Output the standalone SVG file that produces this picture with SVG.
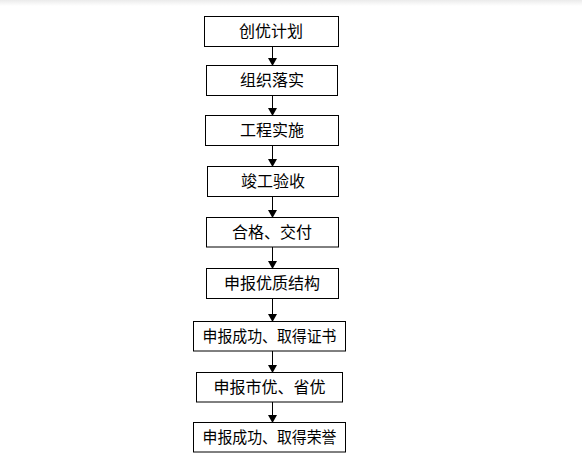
<svg xmlns="http://www.w3.org/2000/svg" width="582" height="463" viewBox="0 0 582 463">
<defs>
<linearGradient id="top" x1="0" y1="0" x2="0" y2="1"><stop offset="0" stop-color="#ebebeb"/><stop offset="1" stop-color="#ffffff"/></linearGradient>
<marker id="ah" markerWidth="8" markerHeight="9" refX="7" refY="4.5" orient="auto" markerUnits="userSpaceOnUse"><path d="M0,0 L8,4.5 L0,9 Z" fill="#000"/></marker>
</defs>
<style>
.box{fill:#fff;stroke:#000;stroke-width:1}
.t{font-family:"Noto Sans CJK SC","Noto Sans CJK JP",sans-serif;font-size:16px;fill:#000;text-anchor:middle}
.c{stroke:#000;stroke-width:1;fill:none;marker-end:url(#ah)}
</style>
<rect x="0" y="0" width="582" height="463" fill="#fff"/>
<rect x="0" y="0" width="582" height="6" fill="url(#top)"/>
<g id="connectors">
<line class="c" x1="272.5" y1="47" x2="272.5" y2="65"/>
<line class="c" x1="272.5" y1="96" x2="272.5" y2="115"/>
<line class="c" x1="272.5" y1="146" x2="272.5" y2="166"/>
<line class="c" x1="272.5" y1="197" x2="272.5" y2="217"/>
<line class="c" x1="272.5" y1="247" x2="272.5" y2="268"/>
<line class="c" x1="272.5" y1="299" x2="272.5" y2="321"/>
<line class="c" x1="272.5" y1="351" x2="272.5" y2="372"/>
<line class="c" x1="272.5" y1="402" x2="272.5" y2="422"/>
</g>
<g id="n1"><rect class="box" x="204.5" y="16.5" width="134" height="30"/><text class="t" x="271" y="37">创优计划</text></g>
<g id="n2"><rect class="box" x="206.5" y="65.5" width="131" height="30"/><text class="t" x="272" y="86">组织落实</text></g>
<g id="n3"><rect class="box" x="205.5" y="115.5" width="133" height="30"/><text class="t" x="272" y="136">工程实施</text></g>
<g id="n4"><rect class="box" x="207.5" y="166.5" width="131" height="30"/><text class="t" x="273" y="187">竣工验收</text></g>
<g id="n5"><rect class="box" x="206.5" y="217.5" width="132" height="29.5"/><text class="t" x="272" y="238">合格、交付</text></g>
<g id="n6"><rect class="box" x="206.5" y="268.5" width="132" height="30"/><text class="t" x="272" y="289">申报优质结构</text></g>
<g id="n7"><rect class="box" x="193.5" y="321.5" width="152" height="29.5"/><text class="t" x="269.5" y="342" textLength="134" lengthAdjust="spacingAndGlyphs">申报成功、取得证书</text></g>
<g id="n8"><rect class="box" x="196.5" y="372.5" width="146" height="29.5"/><text class="t" x="269.5" y="393">申报市优、省优</text></g>
<g id="n9"><rect class="box" x="193.5" y="422.5" width="152" height="29.5"/><text class="t" x="269.5" y="443" textLength="134" lengthAdjust="spacingAndGlyphs">申报成功、取得荣誉</text></g>
</svg>
